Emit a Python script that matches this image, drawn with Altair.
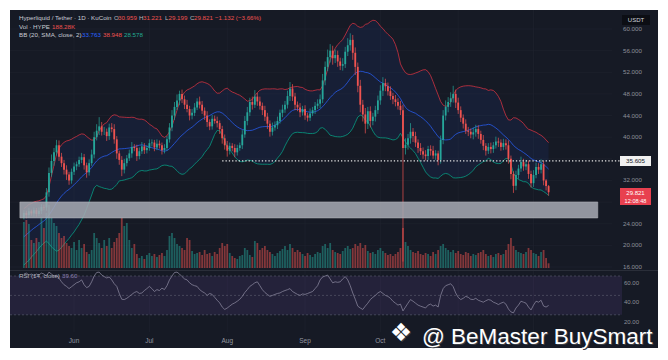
import altair as alt
import numpy as np
import pandas as pd

# ------------------------------------------------------------------ data
first_day = "2025-05-12"
# closes of the 19 sessions before the first visible candle (only feed the 20-day bands)
warmup_close = [17.5, 18.2, 17.8, 18.8, 19.5, 19.2, 20.0, 20.8, 20.3, 21.2,
                22.0, 21.6, 22.5, 23.4, 23.0, 24.2, 24.8, 25.5, 25.2]
close = [
    26.0, 25.6, 26.3, 25.9, 26.5, 25.8, 26.4, 27.1, 27.0, 29.8,
    33.4, 35.6, 37.2, 38.5, 36.4, 35.2, 34.0, 33.1, 32.0, 33.6,
    34.6, 35.0, 35.8, 36.3, 34.8, 33.5, 35.2, 36.8, 40.0, 41.2,
    42.0, 41.0, 41.0, 40.2, 41.8, 41.5, 39.6, 37.0, 35.8, 34.0,
    35.2, 36.1, 37.0, 38.2, 38.0, 36.5, 37.4, 38.3, 37.6, 38.0,
    38.9, 39.0, 38.1, 38.8, 38.5, 37.6, 38.0, 39.6, 41.8, 44.0,
    45.6, 46.8, 48.0, 47.0, 46.0, 45.2, 44.0, 44.5, 45.5, 46.6,
    46.0, 44.9, 44.0, 42.8, 42.0, 43.4, 43.0, 42.6, 41.5, 39.8,
    38.5, 37.5, 38.4, 38.0, 37.2, 38.0, 38.5, 40.5, 43.0, 44.6,
    46.5, 46.0, 47.5, 46.6, 45.8, 45.0, 43.8, 42.5, 41.0, 41.8,
    42.2, 43.0, 44.5, 45.1, 46.0, 47.6, 49.0, 47.5, 46.0, 45.5,
    44.6, 45.2, 44.0, 43.6, 44.4, 45.0, 45.8, 46.2, 47.0, 50.5,
    53.0, 54.8, 56.0, 54.6, 55.2, 54.0, 53.2, 53.5, 55.8, 57.0,
    58.0, 55.6, 53.0, 49.5, 46.0, 44.2, 42.5, 44.8, 43.0, 43.8,
    45.0, 46.8, 48.6, 50.0, 49.4, 48.5, 47.6, 47.0, 46.5, 45.8,
    45.0, 38.0, 38.6, 39.8, 41.0, 40.2, 39.0, 38.0, 37.4, 36.8,
    36.5, 37.8, 37.5, 36.6, 37.0, 35.8, 39.5, 44.0, 45.6, 46.5,
    47.2, 48.0, 46.4, 45.0, 43.6, 42.5, 41.2, 41.0, 40.5, 40.9,
    41.5, 40.6, 39.5, 38.4, 37.5, 38.2, 37.8, 38.5, 39.2, 39.0,
    38.2, 38.9, 38.5, 36.0, 33.2, 31.0, 33.0, 34.2, 35.4, 34.6,
    35.0, 33.2, 31.5, 33.0, 34.5, 34.0, 35.0, 32.0, 30.959, 29.821,
]
wick_up = [
    .5, .4, .6, .3, .5, .4, .6, .5, .4, .8,
    1.0, 1.2, .8, 1.0, .9, .7, .6, .8, .5, .6,
    .7, .5, .6, .8, .6, .5, .7, .9, 1.0, 1.2,
    1.7, .8, .9, .6, .7, .8, .9, .6, .5, .7,
    .8, .6, .7, .9, .5, .6, .7, .8, .6, .5,
    .7, .6, .5, .8, .6, .5, .7, .6, .8, 1.0,
    .9, 1.1, .6, .8, .7, .9, .6, .7, .8, .6,
    .9, .7, .6, .8, .5, .7, .6, .8, .5, .6,
    .7, .8, .6, .5, .7, .6, .5, .8, .9, 1.0,
    .8, 1.0, 1.2, .7, .9, .6, .8, .7, .6, .9,
    .7, .8, .6, .9, .7, 1.0, 1.2, .8, .7, .6,
    .8, .6, .7, .5, .9, .6, .7, .8, .9, 1.2,
    1.0, 1.4, 1.2, .9, 1.0, .8, .7, 1.1, .9, 1.3,
    1.2, .9, 1.0, .8, 1.1, .9, 1.2, .8, .9, .7,
    .8, .9, 1.0, 1.1, .8, .7, .9, .6, .8, .7,
    .9, 1.0, 1.2, .8, 1.6, .7, .8, .6, .9, .7,
    .8, .6, .7, .9, .6, .5, .8, 1.0, 1.2, .9,
    1.1, 1.5, .8, .9, .7, .6, .8, .7, .6, .9,
    .8, .7, .6, .9, .5, .7, .8, .6, .9, .7,
    .6, .8, .7, .9, .6, .5, .8, .7, 1.0, .6,
    .8, .7, .6, .9, .8, .7, .9, .6, .262, .2,
]
wick_dn = [
    .4, .6, .5, .4, .6, .5, .4, .6, .5, .6,
    .8, .7, .9, .6, .8, .7, .9, 1.0, .8, .6,
    .6, .7, .5, .6, .8, 1.0, .6, .5, .7, .6,
    .8, .7, .6, .9, .7, .6, .8, 1.0, .9, 1.2,
    .7, .6, .5, .8, .6, .9, .6, .5, .7, .6,
    .5, .6, .7, .5, .6, .8, .6, .5, .6, .7,
    .8, .6, .9, .7, .8, .6, .9, .7, .6, .5,
    .7, .6, .8, .9, .7, .6, .5, .8, .9, 1.0,
    .8, 1.1, .7, .6, .9, .6, .5, .7, .6, .8,
    .7, .9, .6, .8, .7, .9, .8, 1.0, .9, .7,
    .6, .7, .5, .8, .6, .7, .9, .8, 1.0, .7,
    .9, .6, .8, .7, .6, .5, .7, .6, .8, .7,
    .9, .8, 1.0, 1.2, .9, 1.0, .8, .9, .7, .8,
    1.0, 1.3, 1.5, 1.2, 1.4, 1.3, 1.8, 1.0, 1.2, .8,
    .9, .7, .8, 1.0, .9, .8, .7, .9, .8, .7,
    .9, 21.0, 1.2, .9, 1.0, 1.1, .8, .9, .7, .8,
    .8, .7, .9, .6, .8, 1.0, .7, .8, .9, 1.0,
    .9, .8, 1.0, .7, .8, .9, .6, .8, .7, .9,
    .8, .9, .7, .8, .9, .6, .8, .7, .6, .8,
    .7, .6, .8, .9, 1.0, 1.3, .8, .7, .6, .8,
    .7, .9, .8, .7, .6, .8, .7, .9, .8, .622,
]
volume_k = [
    1840, 1920, 1760, 1120, 1000, 1200, 1040, 2000, 1600, 2200,
    2520, 2000, 1800, 1680, 1400, 1200, 1280, 1000, 880, 800,
    1040, 720, 1120, 800, 960, 640, 560, 720, 1400, 1200,
    1000, 800, 1120, 880, 1200, 800, 1040, 1200, 1400, 2000,
    1680, 1800, 1120, 800, 960, 560, 400, 480, 360, 520,
    600, 480, 560, 440, 520, 600, 480, 720, 1280, 1400,
    1200, 960, 880, 800, 720, 1200, 1120, 680, 560, 600,
    640, 520, 720, 560, 600, 480, 640, 560, 800, 1000,
    880, 960, 600, 480, 400, 360, 480, 520, 800, 720,
    520, 440, 1080, 1000, 720, 800, 880, 720, 640, 560,
    480, 600, 680, 760, 880, 720, 960, 800, 640, 720,
    640, 560, 480, 600, 520, 440, 560, 640, 600, 880,
    960, 800, 1000, 720, 640, 600, 560, 680, 800, 880,
    760, 800, 960, 880, 1000, 800, 920, 680, 600, 640,
    560, 720, 800, 680, 600, 520, 560, 480, 560, 640,
    800, 1600, 1040, 880, 720, 640, 600, 680, 560, 520,
    600, 560, 480, 640, 560, 720, 880, 960, 800, 720,
    640, 720, 600, 680, 560, 520, 640, 600, 480, 560,
    520, 600, 640, 720, 560, 480, 520, 440, 560, 600,
    520, 560, 720, 960, 1200, 880, 720, 640, 600, 560,
    640, 800, 720, 600, 560, 480, 640, 720, 400, 188.28,
]
rsi = [
    72, 73, 71, 72, 70, 72, 71, 73, 72, 70,
    74, 72, 70, 71, 67.7, 64, 61, 59.3, 57, 59,
    61, 63, 64, 66, 61, 58, 59.3, 64, 70, 73.6,
    74, 71, 69.4, 68, 69, 66, 62, 59.3, 52, 46,
    45.7, 47, 49, 51, 53, 54, 52, 52.5, 55, 57,
    59.3, 57, 54, 56, 55, 57.5, 56, 60, 66, 70,
    73.6, 74, 72, 69.4, 67, 66, 63, 61, 60, 59.3,
    56, 54, 52.5, 50, 52, 51, 48, 45, 42.3, 38,
    35.5, 37, 39, 41, 42.3, 44, 46, 49, 53, 56,
    59.3, 61, 63, 64, 60, 55.9, 53, 51, 49, 50,
    51, 52, 52.5, 54, 55, 55.9, 57, 54, 52.5, 51,
    50, 51.5, 51, 52, 53, 54, 57, 60, 66, 69,
    70, 71, 67, 63, 64, 63.5, 64, 67, 69.4, 66,
    60, 52.5, 46, 38.9, 37, 35.5, 39, 42, 45.7, 48,
    50, 52.5, 54, 52, 50, 49, 47, 44, 42, 40,
    41, 34, 38, 42, 45.7, 44, 42, 40, 38.9, 38,
    37, 40, 41, 39, 40, 38, 50, 57, 60, 61,
    62, 59, 52.5, 48, 45.7, 47, 49, 48, 46, 45.7,
    47, 45, 44, 43, 44.5, 45.7, 45, 43, 42, 40.6,
    42, 43, 41, 36, 33, 32, 37, 40, 44, 43,
    42, 38, 35, 40, 44, 43, 45, 39, 38, 39.6,
]
month_starts = ["2025-06-01", "2025-07-01", "2025-08-01", "2025-09-01", "2025-10-01"]
month_names = ["Jun", "Jul", "Aug", "Sep", "Oct"]
grid_months = ["2025-06-01", "2025-07-01", "2025-08-01", "2025-09-01",
               "2025-10-01", "2025-11-01", "2025-12-01"]
price_ticks = [16, 20, 24, 32, 40, 44, 48, 52, 56, 60]
price_grid = [16, 20, 24, 28, 32, 36, 40, 44, 48, 52, 56, 60]
rsi_ticks = [60, 40, 20]
rsi_levels = [70, 50, 30]
level_price = 35.605
level_start = "2025-07-30"
zone_low, zone_high = 25.07, 28.02
zone_start, zone_end = "2025-05-10 10:00", "2025-12-26 14:00"
last_close = 29.821

# ------------------------------------------------------------------ frame
n = min(len(close), len(wick_up), len(wick_dn), len(volume_k), len(rsi))
w = len(warmup_close)
allc = pd.Series(warmup_close + close, dtype=float)
mid = allc.rolling(20).mean()
sd = allc.rolling(20).std(ddof=0)
opens = allc.shift(1).iloc[w:w + n].to_numpy()
closes = allc.iloc[w:w + n].to_numpy()
df = pd.DataFrame({
    "date": pd.date_range(first_day, periods=n, freq="D"),
    "open": opens,
    "close": closes,
    "high": np.maximum(opens, closes) + np.array(wick_up[:n]),
    "low": np.minimum(opens, closes) - np.array(wick_dn[:n]),
    "vol": volume_k[:n],
    "rsi": rsi[:n],
    "mid": mid.iloc[w:w + n].to_numpy(),
    "upper": (mid + 2 * sd).iloc[w:w + n].to_numpy(),
    "lower": (mid - 2 * sd).iloc[w:w + n].to_numpy(),
})
df["dir"] = np.where(df["close"] >= df["open"], "up", "down")

# ------------------------------------------------------------------ style
BG = "#161a25"
UP, DOWN = "#26a69a", "#ef5350"
TXT = "#b2b5be"
FONT = "Liberation Sans"
W, H = 648, 338

xs = alt.Scale(domain=[alt.DateTime(year=2025, month=5, date=8, hours=11, minutes=18),
                       alt.DateTime(year=2026, month=1, date=17, hours=14)])
ps = alt.Scale(domain=[16, 60], range=[257.0, 19.0], zero=False, nice=False)
vs = alt.Scale(domain=[0, 4000], range=[258.0, 158.0], nice=False)
rs = alt.Scale(domain=[0, 100], range=[333.9, 236.9], nice=False)
cs = alt.Scale(domain=["up", "down"], range=[UP, DOWN])

X = alt.X("date:T", scale=xs, axis=None)
base = alt.Chart(df)
one = pd.DataFrame({"k": [0]})


def label(txt, x, y, color=TXT, size=6.2, align="left", weight="normal", font=FONT,
          baseline="middle"):
    return alt.Chart(one).mark_text(
        text=txt, align=align, baseline=baseline, color=color, fontSize=size,
        font=font, fontWeight=weight).encode(x=alt.value(x), y=alt.value(y))


def box(x1, x2, y1, y2, color, stroke=None):
    kw = {"stroke": stroke, "strokeWidth": 0.6} if stroke else {}
    return alt.Chart(one).mark_rect(color=color, **kw).encode(
        x=alt.value(x1), x2=alt.value(x2), y=alt.value(y1), y2=alt.value(y2))


layers = []

# grids & panes
layers.append(alt.Chart(pd.DataFrame({"p": price_grid})).mark_rule(
    color="#20242f", strokeWidth=0.6).encode(
    y=alt.Y("p:Q", scale=ps, axis=None), x=alt.value(0), x2=alt.value(602)))
layers.append(alt.Chart(pd.DataFrame({"m": pd.to_datetime(grid_months)})).mark_rule(
    color="#20242f", strokeWidth=0.6).encode(
    x=alt.X("m:T", scale=xs, axis=None), y=alt.value(0), y2=alt.value(322)))
layers.append(alt.Chart(pd.DataFrame({"hi": [70], "lo": [30]})).mark_rect(
    color="#7e57c2", opacity=0.14).encode(
    x=alt.value(0), x2=alt.value(612),
    y=alt.Y("hi:Q", scale=rs, axis=None), y2="lo:Q"))
layers.append(alt.Chart(pd.DataFrame({"r": rsi_levels})).mark_rule(
    color="#5d6070", strokeWidth=0.6, strokeDash=[2, 2]).encode(
    y=alt.Y("r:Q", scale=rs, axis=None), x=alt.value(0), x2=alt.value(612)))
layers.append(box(0, W, 260, 261, "#2a2e39"))

# Bollinger bands
layers.append(base.mark_area(color="#2962ff", opacity=0.08).encode(
    x=X, y=alt.Y("upper:Q", scale=ps, axis=None), y2="lower:Q"))
layers.append(base.mark_line(color="#f23645", strokeWidth=0.9, opacity=0.75).encode(
    x=X, y=alt.Y("upper:Q", scale=ps, axis=None)))
layers.append(base.mark_line(color="#2962ff", strokeWidth=0.9, opacity=0.8).encode(
    x=X, y=alt.Y("mid:Q", scale=ps, axis=None)))
layers.append(base.mark_line(color="#089981", strokeWidth=0.9, opacity=0.9).encode(
    x=X, y=alt.Y("lower:Q", scale=ps, axis=None)))

# volume
layers.append(base.mark_bar(size=1.8, opacity=0.5).encode(
    x=X, y=alt.Y("vol:Q", scale=vs, axis=None),
    color=alt.Color("dir:N", scale=cs, legend=None)))

# candles
layers.append(base.mark_rule(strokeWidth=0.7).encode(
    x=X, y=alt.Y("low:Q", scale=ps, axis=None), y2="high:Q",
    color=alt.Color("dir:N", scale=cs, legend=None)))
layers.append(base.mark_bar(size=1.8).encode(
    x=X, y=alt.Y("open:Q", scale=ps, axis=None), y2="close:Q",
    color=alt.Color("dir:N", scale=cs, legend=None)))

# grey zone
layers.append(alt.Chart(pd.DataFrame({
    "s": [pd.Timestamp(zone_start)], "e": [pd.Timestamp(zone_end)],
    "lo": [zone_low], "hi": [zone_high]})).mark_rect(
    color="#a7aab3", opacity=0.86, stroke="#c8cad0", strokeWidth=0.6).encode(
    x=alt.X("s:T", scale=xs, axis=None), x2="e:T",
    y=alt.Y("hi:Q", scale=ps, axis=None), y2="lo:Q"))

# dotted level
layers.append(alt.Chart(pd.DataFrame({
    "s": [pd.Timestamp(level_start)], "p": [level_price]})).mark_rule(
    color="#e8e8e8", strokeWidth=1.3, strokeDash=[1.3, 2]).encode(
    x=alt.X("s:T", scale=xs, axis=None), x2=alt.value(610),
    y=alt.Y("p:Q", scale=ps, axis=None)))

# RSI
layers.append(base.mark_line(color="#8b889f", strokeWidth=0.75).encode(
    x=X, y=alt.Y("rsi:Q", scale=rs, axis=None)))

# axis labels
layers.append(alt.Chart(pd.DataFrame({"p": price_ticks})).mark_text(
    align="left", baseline="middle", color="#8d909a", fontSize=6.2, font=FONT).encode(
    y=alt.Y("p:Q", scale=ps, axis=None), x=alt.value(613),
    text=alt.Text("p:Q", format=".3f")))
layers.append(alt.Chart(pd.DataFrame({"r": rsi_ticks})).mark_text(
    align="left", baseline="middle", color="#8d909a", fontSize=6, font=FONT, dy=-3).encode(
    y=alt.Y("r:Q", scale=rs, axis=None), x=alt.value(614),
    text=alt.Text("r:Q", format=".2f")))
layers.append(alt.Chart(pd.DataFrame({"m": pd.to_datetime(month_starts),
                                      "t": month_names})).mark_text(
    align="center", baseline="middle", color="#9598a1", fontSize=6.5, font=FONT).encode(
    x=alt.X("m:T", scale=xs, axis=None), y=alt.value(331), text="t:N"))

# price boxes
layers.append(box(612, 640, 5, 15, "#0c0e14"))
layers.append(label("USDT", 626, 10, "#d1d4dc", 6, align="center"))
layers.append(box(610, 641, 146, 156, "#f0f0f0"))
layers.append(label(f"{level_price:.3f}", 625.5, 151, "#131722", 6.2, align="center"))
layers.append(box(610, 641, 178, 195, "#e8404f"))
layers.append(label(f"{last_close:.3f}", 625.5, 183, "#ffffff", 6, align="center"))
layers.append(label("12:08:48", 625.5, 190.5, "#ffffff", 5.6, align="center"))

# header legend
layers.append(label("Hyperliquid / Tether · 1D · KuCoin", 9, 8, "#c9ccd4"))
for t, x, c in [("O", 104, TXT), ("30.959", 108, DOWN), ("H", 129, TXT),
                ("31.221", 133, DOWN), ("L", 155, TXT), ("29.199", 158.5, DOWN),
                ("C", 180, TXT), ("29.821", 184, DOWN),
                ("\u22121.132 (\u22123.66%)", 205, DOWN)]:
    layers.append(label(t, x, 8, c))
layers.append(label("Vol · HYPE", 9, 16.5, "#c9ccd4"))
layers.append(label("188.28K", 42, 16.5, DOWN))
layers.append(label("BB (20, SMA, close, 2)", 9, 24.5, "#c9ccd4"))
layers.append(label("33.763", 72, 24.5, "#2962ff"))
layers.append(label("38.948", 93, 24.5, DOWN))
layers.append(label("28.578", 114, 24.5, "#22ab94"))
layers.append(label("RSI (14, close)", 9, 266, "#b2b5be"))
layers.append(label("39.60", 52, 266, "#8a7fb0"))

# watermark
layers.append(label("\u2756", 392, 324, "#3a3d45", 25, align="center", font="DejaVu Sans"))
layers.append(label("\u2756", 391, 323, "#ffffff", 25, align="center", font="DejaVu Sans"))
layers.append(label("@ BeMaster BuySmart", 413, 334.5, "#3a3d45", 22.5, baseline="alphabetic"))
layers.append(label("@ BeMaster BuySmart", 412, 333.5, "#ffffff", 22.5, baseline="alphabetic"))

chart = alt.layer(*layers).resolve_scale(y="independent").properties(
    width=W, height=H, background="white",
    padding={"left": 2, "top": 2, "right": 2, "bottom": 2},
    autosize=alt.AutoSizeParams(type="none"),
).configure_view(fill=BG, stroke=None)

chart.save("out.html", embed_options={"renderer": "svg", "actions": False})
